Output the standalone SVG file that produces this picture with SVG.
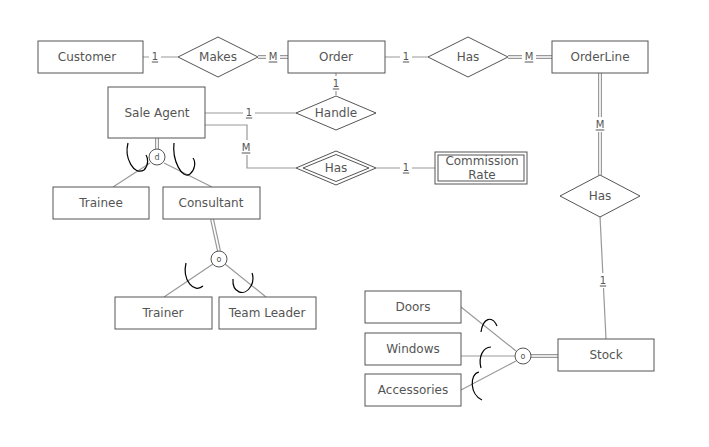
<svg xmlns="http://www.w3.org/2000/svg" width="709" height="447" viewBox="0 0 709 447">
<style>
.e{fill:#fff;stroke:#555;stroke-width:1}
.l{fill:none;stroke:#999;stroke-width:1.2}
.d{fill:none;stroke:#999;stroke-width:4}
.di{fill:none;stroke:#fff;stroke-width:1.6}
.c{fill:none;stroke:#000;stroke-width:1.2}
.w{fill:#fff}
text{font-family:"DejaVu Sans",sans-serif;font-size:12px;fill:#555;text-anchor:middle;dominant-baseline:central}
.s{font-size:10px;text-decoration:underline}
</style>
<rect width="709" height="447" fill="#fff"/>
<g id="connectors">
<path class="l" d="M143 57H178M376 113H205M336 95V73M205 125H247V168H296M376 168H435M428 57H385M600 216L606 339"/>
<path class="d" d="M258 57H288M508 57H552M600 73V175M157 138V149M212 219L219 251M531 356H558"/>
<path class="di" d="M258 57H288M508 57H552M600 73V175M157 138V149M212 219L219 251M531 356H558"/>
<path class="l" d="M150 163L113 187M164 163L212 187M213 264L164 297M225 264L266 297M461 307L516 351M461 356H515M461 390L516 361"/>
<path class="c" d="M128 143C124 158 134 176 144 170C149 165 148 158 146 155"/>
<path class="c" d="M174 143C172 160 182 180 190 174C195 170 196 162 193 158"/>
<path class="c" d="M186 263C182 280 194 294 203 286"/>
<path class="c" d="M233 279C232 292 244 298 251 286C254 281 253 275 252 273"/>
<path class="c" d="M497 326C492 315 483 318 481 332"/>
<path class="c" d="M491 347C483 347 478 357 481 368"/>
<path class="c" d="M479 372C469 374 470 395 482 400"/>
</g>
<g id="cardinalities">
<rect class="w" x="149" y="49" width="12" height="15"/><text class="s" x="155" y="56">1</text>
<rect class="w" x="266" y="49" width="14" height="15"/><text class="s" x="273" y="56">M</text>
<rect class="w" x="400" y="49" width="12" height="15"/><text class="s" x="406" y="56">1</text>
<rect class="w" x="522" y="49" width="14" height="15"/><text class="s" x="529" y="56">M</text>
<rect class="w" x="330" y="76" width="12" height="15"/><text class="s" x="336" y="83">1</text>
<rect class="w" x="243" y="105" width="12" height="15"/><text class="s" x="249" y="112">1</text>
<rect class="w" x="239" y="140" width="14" height="15"/><text class="s" x="246" y="147">M</text>
<rect class="w" x="400" y="160" width="12" height="15"/><text class="s" x="406" y="167">1</text>
<rect class="w" x="593" y="117" width="14" height="15"/><text class="s" x="600" y="124">M</text>
<rect class="w" x="597" y="273" width="12" height="15"/><text class="s" x="603" y="280">1</text>
</g>
<g id="customer"><rect class="e" x="38" y="41" width="105" height="32"/><text x="87" y="57">Customer</text></g>
<g id="makes"><polygon class="e" points="178,57 218,37 258,57 218,77"/><text x="218" y="57">Makes</text></g>
<g id="order"><rect class="e" x="288" y="41" width="97" height="32"/><text x="336" y="57">Order</text></g>
<g id="has1"><polygon class="e" points="428,57 468,37 508,57 468,77"/><text x="468" y="57">Has</text></g>
<g id="orderline"><rect class="e" x="552" y="41" width="96" height="32"/><text x="600" y="57">OrderLine</text></g>
<g id="saleagent"><rect class="e" x="108" y="87" width="97" height="51"/><text x="157" y="113">Sale Agent</text></g>
<g id="handle"><polygon class="e" points="296,113 336,96 376,113 336,130"/><text x="336" y="113">Handle</text></g>
<g id="has2"><polygon class="e" points="296,168 336,151 376,168 336,185"/><polygon class="e" points="303,168 336,154.5 369,168 336,181.5"/><text x="336" y="168">Has</text></g>
<g id="commission"><rect class="e" x="435" y="152" width="92" height="32"/><rect class="e" x="438" y="155" width="86" height="26"/><text x="482" y="161">Commission</text><text x="482" y="175">Rate</text></g>
<g id="d1"><circle class="e" cx="157" cy="157" r="8"/><text x="157" y="157" style="font-size:8px">d</text></g>
<g id="trainee"><rect class="e" x="53" y="187" width="96" height="32"/><text x="101" y="203">Trainee</text></g>
<g id="consultant"><rect class="e" x="163" y="187" width="97" height="32"/><text x="211" y="203">Consultant</text></g>
<g id="o1"><circle class="e" cx="219" cy="259" r="8"/><text x="219" y="259" style="font-size:8px">o</text></g>
<g id="trainer"><rect class="e" x="115" y="297" width="97" height="32"/><text x="163" y="313">Trainer</text></g>
<g id="teamleader"><rect class="e" x="219" y="297" width="97" height="32"/><text x="267" y="313">Team Leader</text></g>
<g id="has3"><polygon class="e" points="560,196 600,175 640,196 600,217"/><text x="600" y="196">Has</text></g>
<g id="stock"><rect class="e" x="558" y="339" width="96" height="32"/><text x="606" y="355">Stock</text></g>
<g id="o2"><circle class="e" cx="523" cy="356" r="8"/><text x="523" y="356" style="font-size:8px">o</text></g>
<g id="doors"><rect class="e" x="365" y="291" width="96" height="32"/><text x="413" y="307">Doors</text></g>
<g id="windows"><rect class="e" x="365" y="333" width="96" height="32"/><text x="413" y="349">Windows</text></g>
<g id="accessories"><rect class="e" x="365" y="374" width="96" height="32"/><text x="413" y="390">Accessories</text></g>
</svg>
